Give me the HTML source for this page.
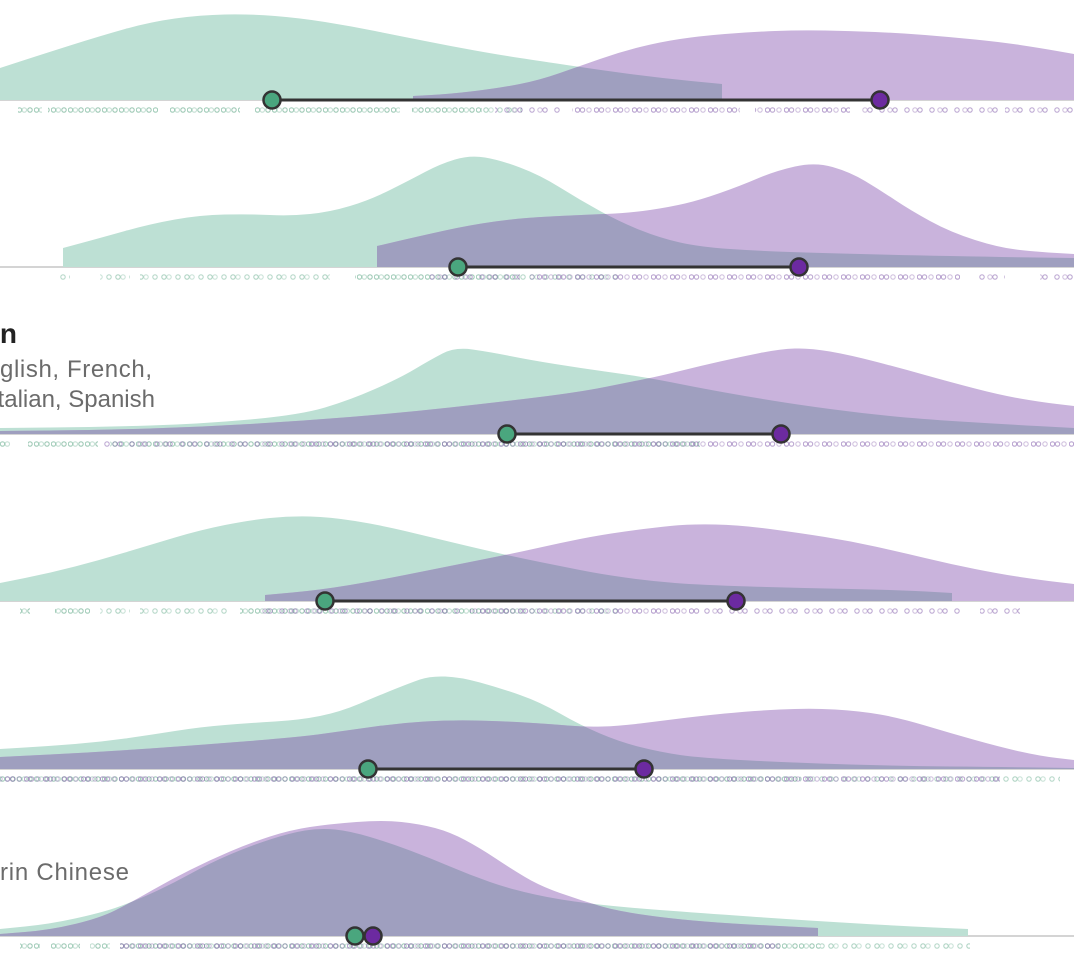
<!DOCTYPE html>
<html><head><meta charset="utf-8"><style>
html,body{margin:0;padding:0;background:#fff;width:1074px;height:966px;overflow:hidden}
svg{display:block}
text{font-family:"Liberation Sans",Arial,sans-serif}
</style></head><body>
<svg width="1074" height="966" viewBox="0 0 1074 966" xmlns="http://www.w3.org/2000/svg">
<defs>
<pattern id="g6" width="17" height="10" y="-5" patternUnits="userSpaceOnUse">
<circle cx="2.5" cy="5" r="2.2" fill="none" stroke="#7cb89d" stroke-opacity="0.7" stroke-width="1.1"/>
<circle cx="7.3" cy="5" r="2.2" fill="none" stroke="#7cb89d" stroke-opacity="0.45" stroke-width="1.1"/>
<circle cx="13" cy="5" r="2.2" fill="none" stroke="#5fa585" stroke-opacity="0.6" stroke-width="1.1"/>
</pattern>
<pattern id="g9" width="23" height="10" y="-5" patternUnits="userSpaceOnUse">
<circle cx="3" cy="5" r="2.2" fill="none" stroke="#7cb89d" stroke-opacity="0.6" stroke-width="1.1"/>
<circle cx="8" cy="5" r="2.2" fill="none" stroke="#7cb89d" stroke-opacity="0.4" stroke-width="1.1"/>
<circle cx="17" cy="5" r="2.2" fill="none" stroke="#7cb89d" stroke-opacity="0.55" stroke-width="1.1"/>
</pattern>
<pattern id="p6" width="19" height="10" y="-5" x="5" patternUnits="userSpaceOnUse">
<circle cx="2.5" cy="5" r="2.2" fill="none" stroke="#8b66b0" stroke-opacity="0.6" stroke-width="1.1"/>
<circle cx="7.5" cy="5" r="2.2" fill="none" stroke="#7a52a3" stroke-opacity="0.5" stroke-width="1.1"/>
<circle cx="14" cy="5" r="2.2" fill="none" stroke="#8b66b0" stroke-opacity="0.4" stroke-width="1.1"/>
</pattern>
<pattern id="p9" width="25" height="10" y="-5" x="4" patternUnits="userSpaceOnUse">
<circle cx="3" cy="5" r="2.2" fill="none" stroke="#8b66b0" stroke-opacity="0.55" stroke-width="1.1"/>
<circle cx="11" cy="5" r="2.2" fill="none" stroke="#8b66b0" stroke-opacity="0.4" stroke-width="1.1"/>
<circle cx="16" cy="5" r="2.2" fill="none" stroke="#7a52a3" stroke-opacity="0.5" stroke-width="1.1"/>
</pattern>

<path id="P1" d="M413,100 L413,96 L431.5,95 Q450,94 475,91 Q500,88 520,84 Q540,80 560,73 Q580,66 600,59 Q620,52 640,47 Q660,42 680,39 Q700,36 725,34 Q750,32 775,31 Q800,30 825,30.5 Q850,31 875,32 Q900,33 925,35 Q950,37 975,39.5 Q1000,42 1020,45 Q1040,48 1057,51 L1074,54 L1074,100 Z"/>
<path id="G1" d="M0,100 L0,68 L20,61.5 Q40,55 70,45.5 Q100,36 125,29 Q150,22 175,18.5 Q200,15 225,14.5 Q250,14 275,16 Q300,18 325,22 Q350,26 375,31 Q400,36 425,41 Q450,46 475,50.5 Q500,55 520,58 Q540,61 570,65.5 Q600,70 630,74 Q660,78 691,81 L722,84 L722,100 Z"/>

<path id="P2" d="M377,267 L377,246 L398.5,241 Q420,236 445,230.5 Q470,225 495,221.5 Q520,218 550,216.5 Q580,215 605,214 Q630,213 650,210 Q670,207 685,203.5 Q700,200 720,193 Q740,186 757.5,178.5 Q775,171 795,166.5 Q815,162 832.5,167 Q850,172 865,181 Q880,190 895,200 Q910,210 930,221 Q950,232 975,240 Q1000,248 1020,250 Q1040,252 1057,253 L1074,254 L1074,267 Z"/>
<path id="G2" d="M63,267 L63,248 L81.5,243 Q100,238 125,231 Q150,224 175,219.5 Q200,215 225,214.5 Q250,214 270,215 Q290,216 310,214 Q330,212 350,206 Q370,200 390,190 Q410,180 425,172 Q440,164 455,159.5 Q470,155 485,157.5 Q500,160 520,167.5 Q540,175 560,187.5 Q580,200 600,211 Q620,222 640,230 Q660,238 680,242.5 Q700,247 730,249 Q760,251 790,252 Q820,253 860,254 Q900,255 950,256 Q1000,257 1037,257.5 L1074,258 L1074,267 Z"/>

<path id="P3" d="M0,434 L0,431 L50,430.5 Q100,430 150,428.5 Q200,427 250,424 Q300,421 350,417 Q400,413 450,407.5 Q500,402 540,397 Q580,392 605,387 Q630,382 645,379 Q660,376 680,371 Q700,366 720,361.5 Q740,357 760,353 Q780,349 795,348.5 Q810,348 830,351.5 Q850,355 875,361.5 Q900,368 925,375 Q950,382 975,388.5 Q1000,395 1020,398.5 Q1040,402 1057,404 L1074,406 L1074,434 Z"/>
<path id="G3" d="M0,434 L0,428 L50,427.5 Q100,427 150,425.5 Q200,424 250,419.5 Q300,415 325,407.5 Q350,400 375,389 Q400,378 415,369 Q430,360 442.5,353.5 Q455,347 472.5,349.5 Q490,352 510,356 Q530,360 555,364 Q580,368 605,371.5 Q630,375 645,377.5 Q660,380 680,384 Q700,388 725,392.5 Q750,397 775,401 Q800,405 830,409 Q860,413 890,416 Q920,419 960,421.5 Q1000,424 1037,426 L1074,428 L1074,434 Z"/>

<path id="P4" d="M265,601 L265,595 L292.5,592.5 Q320,590 350,585 Q380,580 405,575 Q430,570 455,565 Q480,560 500,556 Q520,552 540,547.5 Q560,543 580,539 Q600,535 625,531.5 Q650,528 670,526 Q690,524 715,524.5 Q740,525 770,529 Q800,533 825,537 Q850,541 875,546.5 Q900,552 925,558 Q950,564 975,569 Q1000,574 1020,577 Q1040,580 1057,582 L1074,584 L1074,601 Z"/>
<path id="G4" d="M0,601 L0,583 L25,578 Q50,573 75,566.5 Q100,560 125,552.5 Q150,545 175,537.5 Q200,530 225,525 Q250,520 270,518 Q290,516 310,516.5 Q330,517 355,521 Q380,525 405,531 Q430,537 455,543 Q480,549 500,553.5 Q520,558 540,562 Q560,566 580,570 Q600,574 625,577.5 Q650,581 675,583 Q700,585 750,586.5 Q800,588 850,589 Q900,590 926,591.5 L952,593 L952,601 Z"/>

<path id="P5" d="M0,769 L0,757 L50,754.5 Q100,752 150,748.5 Q200,745 250,741 Q300,737 325,733.5 Q350,730 375,726.5 Q400,723 425,721.5 Q450,720 475,720.5 Q500,721 525,722.5 Q550,724 567.5,725.5 Q585,727 602.5,726.5 Q620,726 640,723.5 Q660,721 680,718.5 Q700,716 725,713.5 Q750,711 780,709.5 Q810,708 835,709.5 Q860,711 880,714.5 Q900,718 925,725.5 Q950,733 975,740 Q1000,747 1020,751.5 Q1040,756 1057,758 L1074,760 L1074,769 Z"/>
<path id="G5" d="M0,769 L0,749 L25,747.5 Q50,746 75,744 Q100,742 125,738.5 Q150,735 175,731 Q200,727 225,725 Q250,723 275,721.5 Q300,720 320,716 Q340,712 360,703.5 Q380,695 395,689 Q410,683 420,679.5 Q430,676 445,676.5 Q460,677 480,682.5 Q500,688 520,695 Q540,702 560,713.5 Q580,725 600,733.5 Q620,742 640,747 Q660,752 680,755 Q700,758 750,760.5 Q800,763 850,764.5 Q900,766 950,766.5 Q1000,767 1037,767.5 L1074,768 L1074,769 Z"/>

<path id="P6" d="M0,936 L0,934 L25,932 Q50,930 75,924 Q100,918 115,910.5 Q130,903 150,891.5 Q170,880 190,870 Q210,860 230,851.5 Q250,843 270,836.5 Q290,830 310,827 Q330,824 356.5,822 Q383,820 401.5,822 Q420,824 435,828 Q450,832 465,840 Q480,848 495,858 Q510,868 525,877 Q540,886 560,893 Q580,900 600,906 Q620,912 660,917 Q700,922 759,925 L818,928 L818,936 Z"/>
<path id="G6" d="M0,936 L0,929 L25,926.5 Q50,924 75,918.5 Q100,913 115,908 Q130,903 150,894 Q170,885 190,874 Q210,863 230,854.5 Q250,846 270,839.5 Q290,833 305,830.5 Q320,828 335,829.5 Q350,831 370,837 Q390,843 410,850.5 Q430,858 450,866.5 Q470,875 490,882 Q510,889 535,894.5 Q560,900 590,903.5 Q620,907 660,910 Q700,913 750,916.5 Q800,920 850,923 Q900,926 934,927.5 L968,929 L968,936 Z"/>

<clipPath id="c1"><use href="#P1"/></clipPath>
<clipPath id="c2"><use href="#P2"/></clipPath>
<clipPath id="c3"><use href="#P3"/></clipPath>
<clipPath id="c4"><use href="#P4"/></clipPath>
<clipPath id="c5"><use href="#P5"/></clipPath>
<clipPath id="c6"><use href="#P6"/></clipPath>
</defs>

<!-- baselines -->
<g stroke="#d4d4d4" stroke-width="2">
<line x1="0" y1="100" x2="1074" y2="100"/>
<line x1="0" y1="267" x2="1074" y2="267"/>
<line x1="0" y1="434" x2="1074" y2="434"/>
<line x1="0" y1="601" x2="1074" y2="601"/>
<line x1="0" y1="769" x2="1074" y2="769"/>
<line x1="0" y1="936" x2="1074" y2="936"/>
</g>

<!-- densities -->
<use href="#G1" fill="#bde0d4"/><use href="#P1" fill="#c9b3dc"/><use href="#G1" fill="#9f9fbf" clip-path="url(#c1)"/>
<use href="#G2" fill="#bde0d4"/><use href="#P2" fill="#c9b3dc"/><use href="#G2" fill="#9f9fbf" clip-path="url(#c2)"/>
<use href="#G3" fill="#bde0d4"/><use href="#P3" fill="#c9b3dc"/><use href="#G3" fill="#9f9fbf" clip-path="url(#c3)"/>
<use href="#G4" fill="#bde0d4"/><use href="#P4" fill="#c9b3dc"/><use href="#G4" fill="#9f9fbf" clip-path="url(#c4)"/>
<use href="#G5" fill="#bde0d4"/><use href="#P5" fill="#c9b3dc"/><use href="#G5" fill="#9f9fbf" clip-path="url(#c5)"/>
<use href="#G6" fill="#bde0d4"/><use href="#P6" fill="#c9b3dc"/><use href="#G6" fill="#9f9fbf" clip-path="url(#c6)"/>

<!-- dot strips -->
<g transform="translate(0,110)">
<rect x="18" y="-5" width="24" height="10" fill="url(#g6)"/>
<rect x="48" y="-5" width="110" height="10" fill="url(#g6)"/>
<rect x="170" y="-5" width="70" height="10" fill="url(#g6)"/>
<rect x="255" y="-5" width="145" height="10" fill="url(#g6)"/>
<rect x="412" y="-5" width="70" height="10" fill="url(#g6)"/>
<rect x="482" y="-5" width="40" height="10" fill="url(#g9)"/>
<rect x="495" y="-5" width="65" height="10" fill="url(#p9)"/>
<rect x="572" y="-5" width="168" height="10" fill="url(#p6)"/>
<rect x="755" y="-5" width="95" height="10" fill="url(#p6)"/>
<rect x="860" y="-5" width="140" height="10" fill="url(#p9)"/>
<rect x="1005" y="-5" width="69" height="10" fill="url(#p9)"/>
</g>
<g transform="translate(0,277)">
<rect x="60" y="-5" width="10" height="10" fill="url(#g9)"/>
<rect x="100" y="-5" width="30" height="10" fill="url(#g9)"/>
<rect x="140" y="-5" width="190" height="10" fill="url(#g9)"/>
<rect x="355" y="-5" width="165" height="10" fill="url(#g6)"/>
<rect x="520" y="-5" width="100" height="10" fill="url(#g9)"/>
<rect x="430" y="-5" width="90" height="10" fill="url(#p9)"/>
<rect x="530" y="-5" width="430" height="10" fill="url(#p6)"/>
<rect x="975" y="-5" width="30" height="10" fill="url(#p9)"/>
<rect x="1040" y="-5" width="34" height="10" fill="url(#p9)"/>
</g>
<g transform="translate(0,444)">
<rect x="0" y="-5" width="10" height="10" fill="url(#g6)"/>
<rect x="28" y="-5" width="70" height="10" fill="url(#g6)"/>
<rect x="110" y="-5" width="590" height="10" fill="url(#g6)"/>
<rect x="100" y="-5" width="200" height="10" fill="url(#p9)"/>
<rect x="300" y="-5" width="774" height="10" fill="url(#p6)"/>
</g>
<g transform="translate(0,611)">
<rect x="20" y="-5" width="10" height="10" fill="url(#g6)"/>
<rect x="55" y="-5" width="35" height="10" fill="url(#g6)"/>
<rect x="100" y="-5" width="30" height="10" fill="url(#g9)"/>
<rect x="140" y="-5" width="90" height="10" fill="url(#g9)"/>
<rect x="240" y="-5" width="280" height="10" fill="url(#g6)"/>
<rect x="520" y="-5" width="100" height="10" fill="url(#g9)"/>
<rect x="260" y="-5" width="200" height="10" fill="url(#p9)"/>
<rect x="470" y="-5" width="230" height="10" fill="url(#p6)"/>
<rect x="700" y="-5" width="260" height="10" fill="url(#p9)"/>
<rect x="980" y="-5" width="40" height="10" fill="url(#p9)"/>
</g>
<g transform="translate(0,779)">
<rect x="0" y="-5" width="800" height="10" fill="url(#g6)"/>
<rect x="800" y="-5" width="260" height="10" fill="url(#g9)"/>
<rect x="0" y="-5" width="1000" height="10" fill="url(#p6)"/>
</g>
<g transform="translate(0,946)">
<rect x="20" y="-5" width="20" height="10" fill="url(#g6)"/>
<rect x="50" y="-5" width="30" height="10" fill="url(#g6)"/>
<rect x="90" y="-5" width="20" height="10" fill="url(#g6)"/>
<rect x="120" y="-5" width="700" height="10" fill="url(#g6)"/>
<rect x="820" y="-5" width="150" height="10" fill="url(#g9)"/>
<rect x="120" y="-5" width="660" height="10" fill="url(#p6)"/>
</g>

<!-- range lines and means -->
<g stroke="#333" stroke-width="3">
<line x1="272" y1="100" x2="880" y2="100"/>
<line x1="458" y1="267" x2="799" y2="267"/>
<line x1="507" y1="434" x2="781" y2="434"/>
<line x1="325" y1="601" x2="736" y2="601"/>
<line x1="368" y1="769" x2="644" y2="769"/>
<line x1="355" y1="936" x2="373" y2="936"/>
</g>
<g stroke="#333" stroke-width="2.5">
<circle cx="272" cy="100" r="8.5" fill="#4aa67e"/>
<circle cx="880" cy="100" r="8.5" fill="#6c2aa0"/>
<circle cx="458" cy="267" r="8.5" fill="#4aa67e"/>
<circle cx="799" cy="267" r="8.5" fill="#6c2aa0"/>
<circle cx="507" cy="434" r="8.5" fill="#4aa67e"/>
<circle cx="781" cy="434" r="8.5" fill="#6c2aa0"/>
<circle cx="325" cy="601" r="8.5" fill="#4aa67e"/>
<circle cx="736" cy="601" r="8.5" fill="#6c2aa0"/>
<circle cx="368" cy="769" r="8.5" fill="#4aa67e"/>
<circle cx="644" cy="769" r="8.5" fill="#6c2aa0"/>
<circle cx="355" cy="936" r="8.5" fill="#4aa67e"/>
<circle cx="373" cy="936" r="8.5" fill="#6c2aa0"/>
</g>

<!-- labels -->
<text x="17" y="343" text-anchor="end" font-size="28" font-weight="bold" fill="#222">n</text>
<text x="0" y="377" font-size="24" fill="#6b6b6b" textLength="152" lengthAdjust="spacing">glish, French,</text>
<text x="155" y="407" text-anchor="end" font-size="24" fill="#6b6b6b">talian, Spanish</text>
<text x="0" y="880" font-size="24" fill="#6b6b6b" textLength="129" lengthAdjust="spacing">rin Chinese</text>
</svg>
</body></html>
